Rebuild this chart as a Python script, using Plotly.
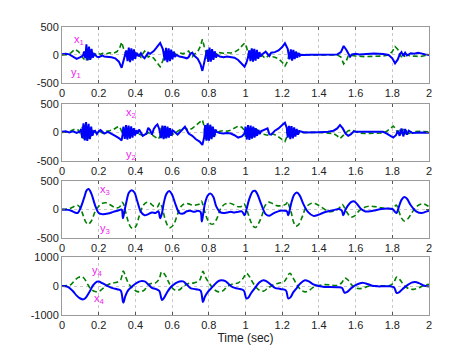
import plotly.graph_objects as go

# ---------------- data (time in s, value) ----------------
x1 = [(0,0),(0.03,5),(0.05,40),(0.07,100),(0.09,60),(0.11,-20),(0.12,-80),
      (0.127,90),(0.133,-100),(0.14,110),(0.147,-90),(0.154,80),(0.161,-60),(0.168,40),(0.175,-10),
      (0.185,20),(0.2,35),(0.21,10),(0.22,30),(0.24,20),(0.26,40),(0.28,30),(0.3,60),(0.315,130),(0.325,230),(0.335,120),(0.345,40),
      (0.35,-60),(0.357,90),(0.364,-100),(0.371,100),(0.378,-90),(0.385,80),(0.392,-70),(0.399,50),(0.406,-30),(0.413,10),
      (0.42,10),(0.43,-40),(0.44,20),(0.45,70),(0.46,30),(0.47,-40),(0.48,-20),(0.49,-30),(0.5,-60),(0.515,-120),(0.535,-210),(0.55,-100),(0.555,-20),
      (0.56,70),(0.567,-85),(0.574,90),(0.581,-85),(0.588,75),(0.595,-60),(0.602,55),(0.609,-40),(0.616,25),(0.623,0),
      (0.64,40),(0.66,20),(0.68,60),(0.69,70),(0.7,20),(0.71,-30),(0.72,10),(0.74,60),(0.755,160),(0.765,280),(0.775,150),(0.785,40),
      (0.79,-70),(0.797,95),(0.804,-100),(0.811,90),(0.818,-75),(0.825,60),(0.832,-45),(0.839,30),(0.846,0),
      (0.86,40),(0.88,30),(0.9,40),(0.92,35),(0.94,50),(0.96,90),(0.98,150),(0.995,210),(1.005,150),(1.015,40),
      (1.02,-60),(1.027,85),(1.034,-95),(1.041,100),(1.048,-90),(1.055,80),(1.062,-70),(1.069,55),(1.076,-40),(1.083,25),(1.09,-10),
      (1.1,-40),(1.11,-60),(1.12,-20),(1.13,10),(1.14,-30),(1.16,-40),(1.18,-70),(1.2,-130),(1.215,-200),(1.23,-110),(1.235,-20),
      (1.24,60),(1.247,-75),(1.254,80),(1.261,-70),(1.268,60),(1.275,-50),(1.282,40),(1.289,-30),(1.296,15),(1.303,0),
      (1.32,10),(1.35,0),(1.4,0),(1.45,0),(1.5,0),(1.52,-40),(1.535,-160),(1.55,-100),(1.56,-20),(1.58,-10),(1.6,-20),(1.65,-30),(1.7,-30),(1.75,-20),(1.78,0),
      (1.8,60),(1.815,150),(1.83,100),(1.84,20),(1.85,-40),(1.86,30),(1.87,-50),(1.88,10),(1.9,-30),(1.92,-20),(1.95,-30),(1.98,-10),(2,0)]

y1 = [(0,10),(0.02,20),(0.04,10),(0.06,-30),(0.08,-70),(0.1,-40),(0.115,-10),
      (0.12,60),(0.127,-60),(0.133,190),(0.14,-100),(0.147,150),(0.154,-90),(0.161,110),(0.168,-50),(0.175,20),
      (0.19,-30),(0.2,-40),(0.22,-10),(0.23,-30),(0.25,-30),(0.27,-40),(0.29,-60),(0.31,-120),(0.325,-230),(0.335,-120),(0.345,-20),
      (0.35,80),(0.357,-110),(0.364,130),(0.371,-130),(0.378,120),(0.385,-100),(0.392,100),(0.399,-70),(0.406,40),(0.413,-10),
      (0.42,-20),(0.43,30),(0.44,-30),(0.45,-60),(0.46,-20),(0.47,40),(0.48,20),(0.49,40),(0.5,70),(0.515,130),(0.535,215),(0.55,100),(0.555,0),
      (0.56,-100),(0.567,125),(0.574,-130),(0.581,120),(0.588,-110),(0.595,95),(0.602,-80),(0.609,60),(0.616,-35),(0.623,0),
      (0.64,-30),(0.66,-40),(0.68,-60),(0.69,-40),(0.7,20),(0.71,40),(0.72,-10),(0.74,-70),(0.755,-170),(0.765,-285),(0.775,-150),(0.785,-30),
      (0.79,90),(0.797,-125),(0.804,130),(0.811,-120),(0.818,105),(0.825,-90),(0.832,65),(0.839,-45),(0.846,0),
      (0.86,-30),(0.88,-40),(0.9,-30),(0.92,-40),(0.94,-50),(0.96,-90),(0.98,-150),(0.995,-210),(1.005,-140),(1.015,-30),
      (1.02,80),(1.027,-110),(1.034,120),(1.041,-120),(1.048,110),(1.055,-100),(1.062,90),(1.069,-70),(1.076,50),(1.083,-30),(1.09,10),
      (1.1,40),(1.11,60),(1.12,20),(1.13,-20),(1.14,40),(1.16,50),(1.18,80),(1.2,140),(1.215,210),(1.23,110),(1.235,10),
      (1.24,-80),(1.247,100),(1.254,-100),(1.261,90),(1.268,-75),(1.275,60),(1.282,-50),(1.289,35),(1.296,-15),(1.303,5),
      (1.32,0),(1.35,5),(1.4,5),(1.45,5),(1.5,10),(1.52,50),(1.535,160),(1.55,90),(1.56,20),(1.57,-30),(1.58,10),(1.6,20),(1.62,10),(1.65,20),(1.7,25),(1.75,15),(1.78,0),
      (1.8,-60),(1.815,-150),(1.83,-80),(1.84,10),(1.85,50),(1.86,-20),(1.87,40),(1.88,-10),(1.9,30),(1.92,20),(1.94,40),(1.96,20),(1.98,10),(2,0)]

x2 = [(0,0),(0.03,10),(0.05,30),(0.07,60),(0.09,40),(0.1,-20),(0.105,-60),
      (0.11,100),(0.117,-120),(0.124,130),(0.131,-130),(0.138,110),(0.145,-110),(0.152,85),(0.159,-70),(0.166,45),(0.173,10),
      (0.18,0),(0.2,30),(0.22,-10),(0.24,20),(0.26,30),(0.28,50),(0.3,90),(0.31,110),(0.32,60),(0.33,-30),
      (0.335,90),(0.342,-105),(0.349,110),(0.356,-100),(0.363,95),(0.37,-90),(0.377,80),(0.384,-70),(0.391,60),(0.398,-45),(0.405,30),(0.412,-20),
      (0.43,-40),(0.45,-60),(0.47,0),(0.49,-40),(0.51,-80),(0.525,-120),(0.535,-60),
      (0.54,80),(0.547,-100),(0.554,100),(0.561,-95),(0.568,85),(0.575,-80),(0.582,70),(0.589,-60),(0.596,50),(0.603,-35),(0.61,-20),
      (0.63,20),(0.65,60),(0.67,80),(0.69,40),(0.71,70),(0.73,130),(0.75,180),(0.765,220),(0.775,100),
      (0.78,-120),(0.787,135),(0.794,-135),(0.801,125),(0.808,-115),(0.815,100),(0.822,-85),(0.829,70),(0.836,-45),(0.843,-20),
      (0.86,20),(0.88,30),(0.9,20),(0.92,40),(0.94,70),(0.96,110),(0.98,90),(0.995,30),
      (1.0,-80),(1.007,100),(1.014,-105),(1.021,110),(1.028,-100),(1.035,90),(1.042,-85),(1.049,80),(1.056,-70),(1.063,55),(1.07,-40),(1.077,25),(1.084,-20),
      (1.1,-30),(1.12,-50),(1.14,-20),(1.16,-40),(1.18,-80),(1.2,-130),(1.215,-160),(1.225,-80),
      (1.23,70),(1.237,-95),(1.244,100),(1.251,-90),(1.258,85),(1.265,-70),(1.272,55),(1.279,-45),(1.286,30),(1.293,-15),(1.3,-10),
      (1.32,0),(1.4,0),(1.45,-5),(1.48,-20),(1.5,-60),(1.515,-110),(1.53,-60),(1.545,-10),(1.56,30),(1.58,40),(1.6,10),(1.62,-10),(1.65,-20),(1.7,-20),(1.75,-10),
      (1.77,20),(1.79,70),(1.805,110),(1.82,60),(1.83,-20),(1.84,50),(1.85,-40),(1.86,60),(1.87,-30),(1.88,40),(1.89,-20),(1.91,10),(1.95,20),(2,10)]

y2 = [(0,10),(0.02,20),(0.04,0),(0.06,20),(0.08,-10),(0.1,20),(0.105,60),
      (0.11,-100),(0.117,160),(0.124,-140),(0.131,180),(0.138,-150),(0.145,150),(0.152,-120),(0.159,100),(0.166,-60),(0.173,20),
      (0.18,30),(0.19,-30),(0.2,20),(0.21,40),(0.23,-20),(0.25,10),(0.27,-20),(0.29,-60),(0.31,-100),(0.325,-140),(0.33,-40),
      (0.335,100),(0.342,-115),(0.349,130),(0.356,-125),(0.363,120),(0.37,-110),(0.377,105),(0.384,-90),(0.391,75),(0.398,-55),(0.405,40),(0.412,-20),
      (0.42,50),(0.44,-60),(0.46,-20),(0.47,80),(0.48,40),(0.49,-40),(0.5,60),(0.51,110),(0.52,140),(0.53,60),
      (0.54,-100),(0.547,120),(0.554,-120),(0.561,115),(0.568,-105),(0.575,100),(0.582,-90),(0.589,75),(0.596,-60),(0.603,35),(0.61,20),
      (0.63,-40),(0.65,30),(0.67,100),(0.69,-20),(0.71,-60),(0.73,-120),(0.75,-160),(0.765,-220),(0.775,-80),
      (0.78,130),(0.787,-145),(0.794,160),(0.801,-145),(0.808,135),(0.815,-120),(0.822,100),(0.829,-80),(0.836,50),(0.843,10),
      (0.86,-10),(0.88,-20),(0.9,-10),(0.92,-20),(0.94,-50),(0.96,-90),(0.98,-70),(0.995,-20),
      (1.0,100),(1.007,-125),(1.014,130),(1.021,-130),(1.028,120),(1.035,-110),(1.042,100),(1.049,-90),(1.056,75),(1.063,-60),(1.07,45),(1.077,-30),(1.084,20),
      (1.1,40),(1.12,70),(1.13,-30),(1.14,-40),(1.16,30),(1.18,70),(1.2,130),(1.215,170),(1.225,80),
      (1.23,-90),(1.237,115),(1.244,-120),(1.251,110),(1.258,-105),(1.265,90),(1.272,-75),(1.279,60),(1.286,-40),(1.293,25),(1.3,20),
      (1.32,0),(1.4,5),(1.45,10),(1.48,30),(1.5,70),(1.515,130),(1.53,70),(1.545,-20),(1.56,-60),(1.575,-30),(1.59,20),(1.6,10),(1.62,10),(1.65,15),(1.7,15),(1.75,10),
      (1.77,-20),(1.79,-60),(1.805,-90),(1.82,-50),(1.83,30),(1.84,-60),(1.85,70),(1.86,-70),(1.87,60),(1.88,-40),(1.89,30),(1.91,-10),(1.95,0),(2,-5)]

x3 = [(0,0),(0.03,-5),(0.05,-20),(0.07,-50),(0.085,-60),(0.1,20),(0.12,200),(0.135,340),(0.145,360),(0.16,280),(0.18,80),(0.2,-60),(0.22,-80),
      (0.25,-70),(0.28,-40),(0.31,-10),(0.325,0),(0.332,-150),(0.34,-30),(0.35,120),(0.365,300),(0.38,340),(0.395,300),(0.41,150),(0.43,-40),
      (0.45,-100),(0.47,-80),(0.49,-50),(0.51,-60),(0.525,-30),(0.535,-150),(0.545,-60),(0.555,120),(0.57,280),(0.585,325),(0.6,260),(0.62,80),
      (0.64,-60),(0.66,-70),(0.68,-30),(0.7,-20),(0.72,-40),(0.74,-20),(0.755,-40),(0.762,-210),(0.77,-60),(0.78,120),(0.795,250),(0.81,280),
      (0.825,220),(0.84,60),(0.86,-40),(0.88,-60),(0.9,-50),(0.92,-40),(0.94,-50),(0.96,-40),(0.98,-30),(0.995,-100),(1.005,0),(1.02,180),
      (1.04,320),(1.052,330),(1.065,270),(1.085,100),(1.11,-80),(1.13,-110),(1.15,-70),(1.17,-40),(1.19,-20),(1.21,-20),(1.225,-30),(1.233,-100),
      (1.24,-20),(1.25,120),(1.265,260),(1.28,300),(1.295,250),(1.315,100),(1.34,-40),(1.37,-110),(1.39,-100),(1.42,-60),(1.45,-30),(1.48,-10),
      (1.51,10),(1.525,-20),(1.533,-100),(1.545,0),(1.56,80),(1.575,130),(1.59,145),(1.61,90),(1.63,10),(1.65,-30),(1.68,-30),(1.71,-10),
      (1.74,10),(1.77,20),(1.8,10),(1.815,-40),(1.823,-60),(1.835,40),(1.85,170),(1.865,220),(1.88,190),(1.9,80),(1.93,-30),(1.96,-60),(1.98,-40),(2,-20)]

y3 = [(0,0),(0.03,10),(0.05,30),(0.07,60),(0.085,75),(0.1,30),(0.115,-100),(0.13,-220),(0.143,-257),(0.16,-200),(0.18,-40),(0.2,60),(0.22,110),
      (0.24,120),(0.26,90),(0.28,50),(0.3,30),(0.315,50),(0.328,130),(0.335,100),(0.345,-20),(0.36,-200),(0.375,-310),(0.39,-330),(0.405,-280),
      (0.42,-120),(0.44,60),(0.46,125),(0.48,110),(0.5,60),(0.52,50),(0.533,120),(0.54,90),(0.55,-20),(0.565,-200),(0.58,-300),(0.592,-315),
      (0.61,-250),(0.63,-80),(0.65,60),(0.67,105),(0.69,100),(0.71,80),(0.73,80),(0.75,100),(0.76,150),(0.768,80),(0.78,-60),(0.795,-190),
      (0.81,-250),(0.825,-250),(0.845,-150),(0.865,20),(0.89,100),(0.915,110),(0.94,80),(0.96,50),(0.98,60),(0.992,100),(1.0,60),(1.015,-80),
      (1.03,-220),(1.045,-300),(1.055,-315),(1.07,-250),(1.09,-100),(1.105,60),(1.125,130),(1.145,110),(1.17,70),(1.2,70),(1.222,100),(1.23,140),
      (1.238,60),(1.25,-60),(1.26,-200),(1.275,-290),(1.29,-260),(1.31,-120),(1.33,40),(1.36,110),(1.39,90),(1.42,30),(1.45,-30),(1.48,-30),
      (1.5,0),(1.52,60),(1.528,90),(1.54,30),(1.555,-60),(1.575,-130),(1.595,-110),(1.62,-20),(1.65,40),(1.68,60),(1.71,50),(1.74,30),(1.77,20),
      (1.8,20),(1.815,60),(1.822,80),(1.835,-20),(1.85,-150),(1.865,-200),(1.885,-160),(1.91,-40),(1.935,60),(1.96,100),(1.98,90),(2,50)]

x4 = [(0,0),(0.02,-10),(0.04,-60),(0.06,-180),(0.08,-330),(0.1,-430),(0.116,-460),(0.13,-400),(0.15,-200),(0.17,30),(0.19,150),(0.2,160),
      (0.22,100),(0.25,0),(0.28,-80),(0.3,-110),(0.32,-160),(0.334,-570),(0.345,-350),(0.36,-150),(0.38,-20),(0.41,120),(0.43,170),(0.45,160),
      (0.47,60),(0.49,-60),(0.51,-100),(0.53,-170),(0.545,-480),(0.555,-420),(0.57,-250),(0.59,-60),(0.62,100),(0.64,160),(0.66,160),(0.68,50),
      (0.7,-70),(0.73,-110),(0.755,-160),(0.768,-550),(0.778,-380),(0.795,-200),(0.82,-30),(0.85,160),(0.87,200),(0.89,170),(0.91,60),(0.93,-40),
      (0.96,-90),(0.99,-150),(1.005,-430),(1.015,-400),(1.03,-250),(1.05,-80),(1.075,120),(1.097,200),(1.115,160),(1.14,40),(1.16,-60),(1.19,-100),
      (1.22,-150),(1.233,-430),(1.245,-390),(1.26,-220),(1.28,-60),(1.3,100),(1.324,200),(1.345,160),(1.37,60),(1.4,0),(1.43,-30),(1.46,-30),
      (1.5,-40),(1.525,-60),(1.54,-230),(1.555,-200),(1.575,-80),(1.6,30),(1.625,100),(1.642,110),(1.665,70),(1.69,10),(1.72,-10),(1.75,-10),
      (1.79,-10),(1.81,-50),(1.824,-240),(1.84,-200),(1.86,-80),(1.885,40),(1.905,120),(1.924,140),(1.945,100),(1.97,20),(2,-20)]

y4 = [(0,0),(0.03,20),(0.05,60),(0.07,200),(0.09,300),(0.107,320),(0.12,270),(0.14,60),(0.16,-120),(0.18,-190),(0.2,-190),(0.22,-100),
      (0.245,20),(0.27,100),(0.3,130),(0.32,220),(0.334,520),(0.345,350),(0.36,120),(0.38,-50),(0.4,-160),(0.425,-200),(0.45,-130),(0.47,40),
      (0.49,100),(0.51,110),(0.53,250),(0.543,490),(0.56,400),(0.58,150),(0.6,-60),(0.62,-150),(0.64,-130),(0.66,-20),(0.69,90),(0.72,110),
      (0.75,200),(0.768,510),(0.78,330),(0.8,120),(0.82,-60),(0.84,-170),(0.86,-200),(0.88,-150),(0.9,-20),(0.93,70),(0.96,110),(0.985,250),
      (1.005,440),(1.02,340),(1.04,120),(1.06,-60),(1.08,-160),(1.1,-170),(1.12,-80),(1.15,40),(1.18,100),(1.21,150),(1.242,440),(1.255,330),
      (1.275,100),(1.3,-120),(1.324,-200),(1.345,-160),(1.37,-40),(1.4,20),(1.43,50),(1.46,40),(1.5,20),(1.525,120),(1.542,280),(1.56,200),
      (1.58,30),(1.6,-60),(1.62,-90),(1.645,-60),(1.67,-10),(1.7,10),(1.75,10),(1.79,30),(1.81,150),(1.824,310),(1.84,230),(1.86,60),(1.88,-60),
      (1.9,-110),(1.92,-110),(1.945,-60),(1.97,20),(2,60)]

x_ticks = [0, 0.2, 0.4, 0.6, 0.8, 1, 1.2, 1.4, 1.6, 1.8, 2]
x_tick_labels = ["0", "0.2", "0.4", "0.6", "0.8", "1", "1.2", "1.4", "1.6", "1.8", "2"]
y_ticks_small = [-500, 0, 500]
y_tick_labels_small = ["-500", "0", "500"]
y_ticks_big = [-1000, 0, 1000]
y_tick_labels_big = ["-1000", "0", "1000"]

# (green dashed, blue solid, labels) per panel
panels = [
    (x1, y1, [("x<sub>1</sub>", 0.093, 268), ("y<sub>1</sub>", 0.076, -321)], 500),
    (x2, y2, [("x<sub>2</sub>", 0.376, 345), ("y<sub>2</sub>", 0.376, -398)], 500),
    (y3, x3, [("x<sub>3</sub>", 0.234, 341), ("y<sub>3</sub>", 0.234, -341)], 500),
    (y4, x4, [("y<sub>4</sub>", 0.196, 517), ("x<sub>4</sub>", 0.207, -448)], 1000),
]
domains = [[0.806, 1.0], [0.535, 0.733], [0.267, 0.465], [0.0, 0.201]]

GREEN = "#007f00"
BLUE = "#0000ff"
FONT = "Liberation Sans, Arial, sans-serif"

fig = go.Figure()
annotations = []
layout = {}
for i, (green, blue, labels, lim) in enumerate(panels):
    n = i + 1
    xa = "x" if n == 1 else f"x{n}"
    ya = "y" if n == 1 else f"y{n}"
    shape = "linear" if n <= 2 else "spline"
    fig.add_trace(go.Scatter(x=[p[0] for p in green], y=[p[1] for p in green], mode="lines",
                             line=dict(color=GREEN, width=1.6, dash="5px,3px", shape=shape),
                             xaxis=xa, yaxis=ya, showlegend=False))
    fig.add_trace(go.Scatter(x=[p[0] for p in blue], y=[p[1] for p in blue], mode="lines",
                             line=dict(color=BLUE, width=2, shape=shape),
                             xaxis=xa, yaxis=ya, showlegend=False))
    common = dict(showline=True, linecolor="#9a9a9a", linewidth=1, mirror="ticks",
                  ticks="inside", ticklen=3, tickcolor="#555", automargin=False,
                  showgrid=True, gridcolor="#c8c8c8", griddash="dot", gridwidth=1,
                  zeroline=False, tickfont=dict(family=FONT, size=11, color="#222"))
    xd = dict(common, domain=[0, 1], anchor=ya, range=[0, 2],
              tickvals=x_ticks, ticktext=x_tick_labels)
    if n == 4:
        xd["title"] = dict(text="Time (sec)", font=dict(family=FONT, size=12, color="#222"), standoff=2)
    layout["xaxis" if n == 1 else f"xaxis{n}"] = xd
    tv = y_ticks_small if lim == 500 else y_ticks_big
    tt = y_tick_labels_small if lim == 500 else y_tick_labels_big
    layout["yaxis" if n == 1 else f"yaxis{n}"] = dict(
        common, domain=domains[i], anchor=xa, range=[-lim, lim], tickvals=tv, ticktext=tt)
    for text, tx, ty in labels:
        annotations.append(dict(text=text, x=tx, y=ty, xref=xa, yref=ya, showarrow=False,
                                font=dict(family=FONT, size=11, color="#ee22ee")))

fig.update_layout(**layout)
# the page body adds an 8 px offset, so the figure is 8 px smaller with 8 px less left/top margin
fig.update_layout(width=466, height=347, margin=dict(l=54, r=45, t=19, b=40, autoexpand=False),
                  paper_bgcolor="white", plot_bgcolor="white", annotations=annotations,
                  showlegend=False)
fig.write_html("out.html")
